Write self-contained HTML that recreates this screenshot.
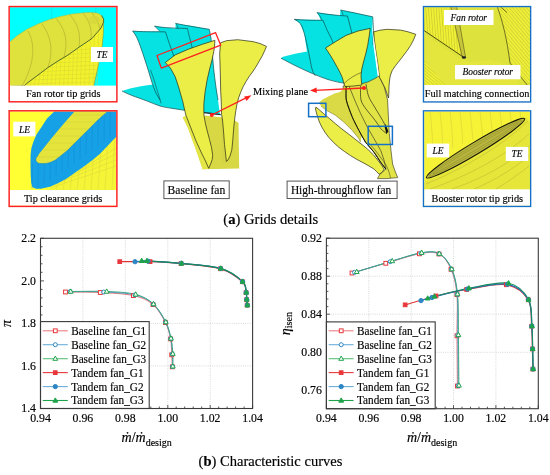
<!DOCTYPE html>
<html><head><meta charset="utf-8"><title>Grids details and characteristic curves</title>
<style>
html,body{margin:0;padding:0;background:#fff;}
body{width:550px;height:475px;overflow:hidden;}
svg{display:block;}
text{font-family:'Liberation Serif','Times New Roman',serif;fill:#000;stroke:#000;stroke-width:0.16px;}
.tl{font-size:11.8px;}
.lg{font-size:12.4px;}
.ax{font-size:14px;}
.sub{font-size:10px;}
.cap{font-size:14px;}
.lab{font-size:11.4px;}
.mp{font-size:10.3px;}
.cp{font-size:10.3px;}
.grid{stroke:#cfcfcf;stroke-width:0.8;stroke-dasharray:1 1.2;}
.tick{stroke:#444;stroke-width:0.9;}
.frame{fill:none;stroke:#3a3a3a;stroke-width:1.1;}
</style></head>
<body>
<svg width="550" height="475" viewBox="0 0 550 475">
<defs>
<clipPath id="clipL"><rect x="40.5" y="238.3" width="212.1" height="170.2"/></clipPath>
<clipPath id="clipR"><rect x="326.4" y="238.2" width="211.89999999999998" height="170.5"/></clipPath>
<clipPath id="c1"><rect x="9.9" y="7.3" width="106.25" height="93.75"/></clipPath>
<clipPath id="c2"><rect x="9.9" y="111.5" width="106.25" height="94.2"/></clipPath>
<clipPath id="cin"><path d="M75.2,110.8 L66.5,120.5 L58.4,130 L50.5,139.5 L43.4,148.5 L38.5,154.5 L35.9,158.5 L36,161.3 L38.5,163.2 L41.7,163.6 L46,163.4 L50,162.6 L55,160.3 L60,156.4 L67.6,150.3 L75,142.8 L82.7,135.2 L90.5,127.5 L97.9,120 L103.5,115 L108.6,110.8 Z"/></clipPath>
<clipPath id="c3"><rect x="424.2" y="7.3" width="105.7" height="93.9"/></clipPath>
<pattern id="hatch" width="2.6" height="2.6" patternUnits="userSpaceOnUse" patternTransform="rotate(-4)"><rect width="2.6" height="2.6" fill="#eff036"/><rect width="0.5" height="2.6" fill="#bcb92c"/></pattern>
<pattern id="hatch2" width="2.6" height="2.6" patternUnits="userSpaceOnUse" patternTransform="rotate(-40)"><rect width="2.6" height="2.6" fill="#eef038"/><rect width="0.5" height="2.6" fill="#c0bd30"/></pattern>
<pattern id="hatch3" width="2.4" height="2.4" patternUnits="userSpaceOnUse" patternTransform="rotate(-50)"><rect width="2.4" height="2.4" fill="#eef036"/><rect width="0.45" height="2.4" fill="#bcb92c"/></pattern>
<clipPath id="c4"><rect x="424.2" y="111.5" width="105.7" height="94.3"/></clipPath>
</defs>
<rect width="550" height="475" fill="#fff"/>
<g clip-path="url(#c1)">
<rect x="9" y="6" width="108" height="96" fill="#00ffff"/>
<path d="M52,7 L50.5,40 M96,7 L93,28" fill="none" stroke="#20c8cc" stroke-width="0.4" stroke-linejoin="round" />
<path d="M103.6,22 L103.4,32 L102.3,45 L100,58 L97.3,70 L95,80 L93.8,86 L20,86 L28,82.5 L48,67.5 L68,55 L92,38.5 L101,28 Z" fill="#f2f22c" stroke="none" stroke-width="0.7" stroke-linejoin="round" />
<path d="M30.0,86 L31.5,80.4M34.2,86 L35.7,77.2M38.4,86 L39.9,74.1M42.6,86 L44.1,70.9M46.8,86 L48.3,67.8M51.0,86 L52.5,65.1M55.2,86 L56.7,62.3M59.4,86 L60.9,59.8M63.6,86 L65.1,57.2M67.8,86 L69.3,54.6M72.0,86 L73.5,51.6M76.2,86 L77.7,48.6M80.4,86 L81.9,45.7M84.6,86 L86.1,42.9M88.8,86 L90.3,40.1M93.0,86 L94.5,36.1M97.2,86 L98.7,31.2M26.3,84.0 L98.0,82.0M31.6,79.8 L97.8,77.8M37.2,75.6 L97.6,73.6M42.8,71.4 L97.4,69.4M48.5,67.2 L97.2,65.2M54.9,63.0 L97.0,61.0M61.7,58.8 L96.7,56.8M68.6,54.6 L96.5,52.6M74.5,50.4 L96.3,48.4" fill="none" stroke="#cfcb36" stroke-width="0.35" stroke-linejoin="round" />
<path d="M9,42.5 L17,35.8 L27,29.3 L38,24 L48,20 L60,16.5 L72,14 L84,12.7 L92,12.5 L98,13.3 L101.5,15.5 L103.6,19 L103.6,22 L101,28 L92,38.5 L80,46.5 L68,55 L58,61 L48,67.5 L38,75 L28,82.5 L24,86 L9,86 Z" fill="#dfe23c" stroke="none" stroke-width="0.7" stroke-linejoin="round" />
<path d="M28,31 C36,45 34,65 22,86 M42,24 C52,38 53,52 48,67 M56,18.5 C66,30 68,42 64,57 M70,15 C78,24 81,34 79,47 M83,13.2 C89,20 92,28 91,39 M92,13 C96,18 99,23 100,30" fill="none" stroke="#9a9628" stroke-width="0.45" stroke-linejoin="round" />
<ellipse cx="94" cy="20" rx="6" ry="4" fill="#d4d63a" opacity="0.7"/>
<path d="M9,86.5 L24,86 L28,82.5 L38,75 L48,67.5 L58,61 L68,55 L80,46.5 L92,38.5 L101,28 L103.6,22 L103.6,19 L101.5,15.5" fill="none" stroke="#4a4810" stroke-width="0.8" stroke-linejoin="round" />
<path d="M103.6,22 L103.4,32 L102.3,45 L100,58 L97.3,70 L95,80 L93.8,86" fill="none" stroke="#8a8620" stroke-width="0.5" stroke-linejoin="round" />
<path d="M9,42.5 L17,35.8 L27,29.3 L38,24 L48,20 L60,16.5 L72,14 L84,12.7 L92,12.5 L98,13.3 L101.5,15.5" fill="none" stroke="#b0ae30" stroke-width="0.4" stroke-linejoin="round" />
<rect x="91" y="47" width="22.0" height="15.0" fill="#fff"/><text x="102.0" y="57.6" class="lab" text-anchor="middle" font-style="italic" style="font-size:9.4px">TE</text>
<rect x="9" y="85.6" width="108" height="17" fill="#fff"/>
</g>
<rect x="9.15" y="6.55" width="107.75" height="95.25" fill="none" stroke="#ff2020" stroke-width="1.45"/>
<text x="26.1" y="97" class="cp" style="font-size:11px" textLength="74.4" lengthAdjust="spacingAndGlyphs">Fan rotor tip grids</text>
<g clip-path="url(#c2)">
<rect x="9" y="110" width="108" height="98" fill="#ffff33"/>
<path d="M116,133 L105.5,145.8 L90.3,159.4 L75.2,170 L60,182 L45,190 L116,190 Z" fill="#f6f436" stroke="none" stroke-width="0.7" stroke-linejoin="round" />
<path d="M56,190 L59,178.0M63,190 L66,172.5M70,190 L73,167.0M77,190 L80,161.5M84,190 L87,156.0M91,190 L94,150.5M98,190 L101,145.0M105,190 L108,139.5M112,190 L115,134.0M50,188 L116,166M60,182 L116,160M70,176 L116,154M80,170 L116,148" fill="none" stroke="#d4d040" stroke-width="0.4" stroke-linejoin="round" />
<path d="M55,110.8 L47,118.5 L41.7,126.7 L36.5,134.5 L33.4,141.8 L31.4,148 L30.6,155 L30.5,165 L30.7,175 L31.2,183 L32.5,187.2 L36,188.8 L41,188.8 L50,186.8 L58.5,183 L66.8,178.5 L75.2,172.5 L83.5,166.8 L92,160.5 L100.3,153.4 L107,146.5 L113.6,139.5 L117,136 L117,110.8 Z" fill="#16a0e6" stroke="none" stroke-width="0.7" stroke-linejoin="round" />
<path d="M32,188.5 L32.5,163.0M38,188.5 L38.5,163.0M44,184.3 L44.5,163.0M50,180.1 L50.5,163.0M56,175.9 L56.5,156.5M62,171.7 L62.5,150.0M68,167.5 L68.5,143.5M74,163.3 L74.5,137.0M80,159.1 L80.5,130.5M86,154.9 L86.5,124.0M92,150.7 L92.5,117.5M98,146.5 L98.5,111.0M104,142.3 L104.5,104.5M110,138.1 L110.5,98.0" fill="none" stroke="#1088d0" stroke-width="0.4" stroke-linejoin="round" />
<path d="M75.2,110.8 L66.5,120.5 L58.4,130 L50.5,139.5 L43.4,148.5 L38.5,154.5 L35.9,158.5 L36,161.3 L38.5,163.2 L41.7,163.6 L46,163.4 L50,162.6 L55,160.3 L60,156.4 L67.6,150.3 L75,142.8 L82.7,135.2 L90.5,127.5 L97.9,120 L103.5,115 L108.6,110.8 Z" fill="#e4e43c" stroke="none" stroke-width="0.7" stroke-linejoin="round" />
<g clip-path="url(#cin)"><path d="M30,157 L110,157 M30,150 L110,150 M30,143 L110,143 M30,136 L110,136 M30,129 L110,129 M30,122 L110,122 M30,115 L110,115" fill="none" stroke="#cfcf40" stroke-width="0.35" stroke-linejoin="round" /></g>
<path d="M38.5,154.5 L35.9,158.5 L36,161.3 L38.5,163.2 L41.7,163.6 L46,163.4 L50,162.6 L55,160.3 L60,156.4 L67.6,150.3 L75,142.8 L82.7,135.2 L90.5,127.5 L97.9,120 L103.5,115 L108.6,110.8" fill="none" stroke="#1480c0" stroke-width="0.5" stroke-linejoin="round" />
<rect x="13.3" y="121.7" width="22.1" height="14.7" fill="#fff"/><text x="24.4" y="132.6" class="lab" text-anchor="middle" font-style="italic" style="font-size:9.4px">LE</text>
<rect x="9" y="190" width="108" height="18" fill="#fff"/>
</g>
<rect x="9.15" y="110.8" width="107.75" height="95.6" fill="none" stroke="#ff2020" stroke-width="1.45"/>
<text x="23.9" y="201.8" class="cp" style="font-size:11px" textLength="78.4" lengthAdjust="spacingAndGlyphs">Tip clearance grids</text>
<g clip-path="url(#c3)">
<rect x="423" y="6" width="108" height="96" fill="#dde23c"/>
<path d="M423,6 L452,6 L464,57 L424,31 Z" fill="url(#hatch)" stroke="none" stroke-width="0.7" stroke-linejoin="round" />
<path d="M497,6 L531,6 L531,86 L524,80 L512,66 C508,42 503,22 497,6 Z" fill="url(#hatch2)" stroke="none" stroke-width="0.7" stroke-linejoin="round" />
<path d="M423,58 L446,86 L423,86 Z" fill="url(#hatch3)" stroke="none" stroke-width="0.7" stroke-linejoin="round" />
<path d="M423,33 L462,60 L470,62 L490,60 L506,64 L514,72 L520,86 L446,86 L423,58 Z" fill="#e4e63e" stroke="none" stroke-width="0.7" stroke-linejoin="round" />
<path d="M450.5,6 L456.5,6 L465.5,57 L462.5,58 Z" fill="#c8c63c" stroke="#3a3812" stroke-width="0.5" stroke-linejoin="round" />
<path d="M424,30.5 L464,57.5" fill="none" stroke="#2a2808" stroke-width="0.8" stroke-linejoin="round" />
<ellipse cx="464" cy="57.5" rx="2" ry="1.2" fill="#222"/>
<path d="M497,6 C503,22 507,40 510,63 L520,76 L528,86" fill="none" stroke="#2a2808" stroke-width="0.6" stroke-linejoin="round" />
<path d="M499.5,6 L507,12.5" fill="none" stroke="#2a2808" stroke-width="0.6" stroke-linejoin="round" />
<rect x="444" y="10" width="49.5" height="15.0" fill="#fff"/><text x="468.8" y="20.8" class="lab" text-anchor="middle" font-style="italic" style="font-size:9.4px">Fan rotor</text>
<rect x="455" y="65" width="65.5" height="14.3" fill="#fff"/><text x="487.8" y="75.3" class="lab" text-anchor="middle" font-style="italic" style="font-size:9.4px">Booster rotor</text>
<rect x="423" y="85" width="108" height="18" fill="#fff"/>
</g>
<rect x="423.45" y="6.55" width="107.2" height="95.4" fill="none" stroke="#1570c8" stroke-width="1.35"/>
<text x="424.8" y="97" class="cp" style="font-size:11px" textLength="104.6" lengthAdjust="spacingAndGlyphs">Full matching connection</text>
<g clip-path="url(#c4)">
<rect x="423" y="110" width="108" height="98" fill="#f6f236"/>
<path d="M430,111 C431.5,125 433,138 432.5,156M440,111 C441.5,125 443,138 442.5,152M450,111 C451.5,125 453,138 452.5,148M460,111 C461.5,125 463,138 462.5,144M470,111 C471.5,125 473,138 472.5,140M480,111 C481.5,125 483,138 482.5,136M490,111 C491.5,125 493,138 492.5,132M500,111 C501.5,125 503,138 502.5,128M510,111 C511.5,125 513,138 512.5,124M520,111 C521.5,125 523,138 522.5,120" fill="none" stroke="#c8c43c" stroke-width="0.4" stroke-linejoin="round" />
<path d="M425,181 C452,170 492,146 526,117 L531,124 L531,190 L424,190 Z" fill="#e6e63a" stroke="none" stroke-width="0.7" stroke-linejoin="round" />
<path d="M426,184 C460,170 500,148 528,121 M430,189 C468,176 505,156 529,134 M452,189 C484,178 510,163 529,146 M474,189 C496,180 514,168 529,156 M496,189 C508,182 519,174 529,166" fill="none" stroke="#b0ac30" stroke-width="0.45" stroke-linejoin="round" />
<ellipse cx="475.55" cy="148.2" rx="57.2" ry="5.9" transform="rotate(-31 475.55 148.2)" fill="#b8b63e" stroke="#1a1a0a" stroke-width="1.1"/>
<ellipse cx="475.55" cy="148.2" rx="54" ry="3.6" transform="rotate(-31 475.55 148.2)" fill="none" stroke="#8a8628" stroke-width="0.45"/>
<ellipse cx="475.55" cy="148.2" rx="50" ry="1.6" transform="rotate(-31 475.55 148.2)" fill="none" stroke="#8a8628" stroke-width="0.45"/>
<rect x="426.7" y="143.6" width="22.5" height="13.8" fill="#fff"/><text x="437.9" y="154.0" class="lab" text-anchor="middle" font-style="italic" style="font-size:9.4px">LE</text>
<rect x="505.8" y="146.9" width="22.4" height="14.1" fill="#fff"/><text x="517.0" y="157.4" class="lab" text-anchor="middle" font-style="italic" style="font-size:9.4px">TE</text>
<rect x="423" y="189.3" width="108" height="19" fill="#fff"/>
</g>
<rect x="423.45" y="110.8" width="107.2" height="95.65" fill="none" stroke="#1570c8" stroke-width="1.35"/>
<text x="431.5" y="201.8" class="cp" style="font-size:11px" textLength="91.6" lengthAdjust="spacingAndGlyphs">Booster rotor tip grids</text>
<path d="M132.6,31 L147,31.4 L160,31.6 L154.5,26 L165,27.4 L175.5,28.5 L175.6,23.4 L192,26 L209.3,29.3 L211,38.6 L212,50 L213.6,68 L215.8,86 L218,100 L220,114.5 L208.5,112.8 L190,111 L173,108.5 L160,106 L146.5,100.8 L132,95.5 L122,91 L130,88.5 L142,86 L153,84.5 L152,82.5 L148.5,71 L144,57 L139.5,44 L136,36 Z" fill="#06e2e2" stroke="none" stroke-width="0.7" stroke-linejoin="round" />
<path d="M132.6,31 C133.2,31.8 134.8,33.8 136.0,36.0 C137.2,38.2 138.2,40.5 139.5,44.0 C140.8,47.5 142.5,52.5 144.0,57.0 C145.5,61.5 147.2,66.8 148.5,71.0 C149.8,75.2 150.8,79.0 152.0,82.5 C153.2,86.0 154.2,89.1 155.5,92.0 C156.8,94.9 159.2,98.7 160.0,100.0" fill="none" stroke="#0f4c4e" stroke-width="0.7" stroke-linejoin="round" />
<path d="M132.6,31 C142,32 152,31.6 165.5,31.9" fill="none" stroke="#0f4c4e" stroke-width="0.7" stroke-linejoin="round" />
<path d="M150.5,70 C151.0,71.3 152.4,75.0 153.4,78.0 C154.4,81.0 155.6,85.0 156.5,88.0 C157.4,91.0 158.2,93.5 159.0,96.0 C159.8,98.5 160.7,102.1 161.0,103.3" fill="none" stroke="#0f4c4e" stroke-width="0.6" stroke-linejoin="round" />
<path d="M165.5,31.9 C166.1,33.6 167.6,38.4 168.8,42.0 C170.1,45.6 171.8,50.5 173.0,53.8 C174.2,57.1 175.5,60.6 176.0,62.0" fill="none" stroke="#0f4c4e" stroke-width="0.7" stroke-linejoin="round" />
<path d="M154.5,26 C160,27.5 170,28 187.4,28.5" fill="none" stroke="#0f4c4e" stroke-width="0.7" stroke-linejoin="round" />
<path d="M154.5,26 C154.9,26.4 156.1,27.6 157.0,28.5 C157.9,29.4 159.5,31.1 160.0,31.6" fill="none" stroke="#0f4c4e" stroke-width="0.6" stroke-linejoin="round" />
<path d="M187.4,28.5 C187.7,29.6 188.3,32.4 189.0,35.2 C189.7,38.0 190.9,42.6 191.6,45.4 C192.3,48.2 192.8,50.9 193.0,52.0" fill="none" stroke="#0f4c4e" stroke-width="0.7" stroke-linejoin="round" />
<path d="M175.6,23.4 C185,25.5 198,27.5 209.3,29.3" fill="none" stroke="#0f4c4e" stroke-width="0.7" stroke-linejoin="round" />
<path d="M175.6,23.4 C175.9,23.8 177.1,25.1 177.5,26.0 C177.9,26.9 177.9,28.1 178.0,28.5" fill="none" stroke="#0f4c4e" stroke-width="0.6" stroke-linejoin="round" />
<path d="M209.3,29.3 C209.6,30.9 210.6,35.1 211.0,38.6 C211.4,42.1 211.6,45.1 212.0,50.0 C212.4,54.9 213.0,62.0 213.6,68.0 C214.2,74.0 215.1,80.7 215.8,86.0 C216.5,91.3 217.6,97.7 218.0,100.0" fill="none" stroke="#0f4c4e" stroke-width="0.7" stroke-linejoin="round" />
<path d="M122,91 C123.7,91.8 127.9,93.9 132.0,95.5 C136.1,97.1 141.8,99.0 146.5,100.8 C151.2,102.5 155.6,104.7 160.0,106.0 C164.4,107.3 168.0,107.7 173.0,108.5 C178.0,109.3 184.1,110.3 190.0,111.0 C195.9,111.7 203.5,112.2 208.5,112.8 C213.5,113.4 218.1,114.2 220.0,114.5" fill="none" stroke="#0f4c4e" stroke-width="0.7" stroke-linejoin="round" />
<path d="M182.7,117.3 L204.5,115.5 L221,117.3 L235.5,121 L238.5,122.7 L239.2,168.5 L202.7,169.3 L196,150 L188,128 Z" fill="#d8d844" stroke="none" stroke-width="0.7" stroke-linejoin="round" />
<path d="M221,117.3 L228,119 L229,160 L222,166 Z" fill="#d4d444" stroke="none" stroke-width="0.7" stroke-linejoin="round" />
<path d="M182.7,117.3 L186,115.5 L190.5,127 L196,141 L201.5,153 L205.5,161 L208.7,168.8 L202.7,169.3 L196,150 L188,128 Z" fill="#e4e648" stroke="none" stroke-width="0.7" stroke-linejoin="round" />
<path d="M165.3,62.5 L175.2,54.9 L188.4,49.2 L201.7,44.5 L214.9,40.3 L214.6,45 L214,50.2 L212.1,59.6 L209.6,69.1 L207,80.5 L205.1,91.8 L203.9,103.2 L203.8,110 L204,115.8 L205.5,124 L207.5,132 L209.5,139.5 L211.5,147.5 L212.7,155.3 L212.2,159.5 L211,163 L208.7,168.3 L205.5,161 L201.5,153 L196,141 L190.5,127 L185.8,115 L182.7,101.3 L178.9,88 L175.2,76.7 L170.4,68.1 Z" fill="#eaee46" stroke="#2a2a12" stroke-width="0.7" stroke-linejoin="round" />
<path d="M220.5,42.8 L226.4,40.7 L237.7,39.7 L252.9,41.6 L260,43.5 L266.5,46.4 L264.5,51 L262.3,55.8 L259,61.5 L255.7,67.2 L252.5,72 L249,76.7 L246,81.5 L243.4,86.1 L241,91.5 L238.7,97.5 L237,104 L235.8,110.8 L234.8,118 L234,125 L233.4,132 L232.8,140 L231.8,150 L230,156 L228,160 L226.4,161.5 L225.5,153 L224.5,144.5 L223.5,131 L222.5,120 L221.6,114.5 L221.2,100 L220.7,91.8 L220.3,72.9 L219.7,54 Z" fill="#eaee46" stroke="#2a2a12" stroke-width="0.7" stroke-linejoin="round" />
<path d="M204,112.6 C210,113.2 215,113.9 221,114.8" fill="none" stroke="#1d3a3a" stroke-width="1.1" stroke-linejoin="round" />
<path d="M157,55.5 L215.5,32.6 L220.7,45.2 L161.3,68.1 Z" fill="none" stroke="#ff2020" stroke-width="1.3" stroke-linejoin="round" />
<path d="M294.3,19.3 L310,19.8 L321,20.1 L317,12.6 L330,14.2 L340,15.5 L340.6,10 L356,13 L372.7,16.8 L372.5,24 L372.2,30 L373.9,45.3 L376.2,62 L378,75.6 L375,80 L369,84 L363.6,85.5 L350,83.6 L340.6,82.6 L327,79.2 L310,72.5 L295,65.5 L281,58.2 L283,56.8 L295,53.8 L307,51.4 L305.5,42 L304.4,33.7 L300.2,23.5 Z" fill="#06e2e2" stroke="none" stroke-width="0.7" stroke-linejoin="round" />
<path d="M294.3,19.3 C295.3,20.0 298.5,21.1 300.2,23.5 C301.9,25.9 303.0,28.9 304.4,33.7 C305.8,38.5 307.3,46.3 308.6,52.2 C309.9,58.1 310.9,65.1 312.0,69.0 C313.1,72.9 314.8,74.7 315.4,75.8" fill="none" stroke="#0f4c4e" stroke-width="0.7" stroke-linejoin="round" />
<path d="M294.3,19.3 C305,20.5 314,20.3 323,20.2" fill="none" stroke="#0f4c4e" stroke-width="0.7" stroke-linejoin="round" />
<path d="M323,20.2 C323.7,21.9 325.8,27.2 327.2,30.3 C328.6,33.4 330.3,36.2 331.4,38.7 C332.5,41.2 333.5,44.4 333.9,45.5" fill="none" stroke="#0f4c4e" stroke-width="0.7" stroke-linejoin="round" />
<path d="M317,12.6 C327,14.5 337,15.5 347.4,16" fill="none" stroke="#0f4c4e" stroke-width="0.7" stroke-linejoin="round" />
<path d="M317,12.6 C317.5,13.2 319.2,14.8 320.0,16.0 C320.8,17.2 321.2,19.4 321.5,20.1" fill="none" stroke="#0f4c4e" stroke-width="0.6" stroke-linejoin="round" />
<path d="M347.4,16 C347.7,17.0 348.3,19.2 349.0,21.9 C349.7,24.6 350.9,29.0 351.6,32.0 C352.3,35.0 352.8,38.7 353.0,40.0" fill="none" stroke="#0f4c4e" stroke-width="0.7" stroke-linejoin="round" />
<path d="M340.6,10 C350,12 362,14.5 372.7,16.8" fill="none" stroke="#0f4c4e" stroke-width="0.7" stroke-linejoin="round" />
<path d="M340.6,10 C340.9,10.5 342.1,12.1 342.5,13.0 C342.9,13.9 342.9,15.2 343.0,15.6" fill="none" stroke="#0f4c4e" stroke-width="0.6" stroke-linejoin="round" />
<path d="M372.7,16.8 C372.8,19.1 373.4,25.6 373.5,30.3 C373.6,35.0 373.1,42.5 373.0,45.0" fill="none" stroke="#0f4c4e" stroke-width="0.7" stroke-linejoin="round" />
<path d="M281,58.2 C283.3,59.4 290.2,63.1 295.0,65.5 C299.8,67.9 304.7,70.2 310.0,72.5 C315.3,74.8 321.9,77.5 327.0,79.2 C332.1,80.9 336.8,81.9 340.6,82.6 C344.4,83.3 348.4,83.4 350.0,83.6" fill="none" stroke="#0f4c4e" stroke-width="0.7" stroke-linejoin="round" />
<path d="M343,86 L352,84.5 L361,84 L368,82 L374,79 L379,76 L384,86 L387.6,100 L388.4,116.9 L389.3,133.7 L391,150.6 L392.6,164.1 L395,171 L397.7,177.6 L387,178.6 L377.5,178.6 L380,174 L385.9,169.1 L380.8,162.4 L374.1,152.3 L365.6,142.2 L358.9,130.4 L352.2,116.9 L346.3,100 L344,92 Z" fill="#e2e446" stroke="#2a2a12" stroke-width="0.6" stroke-linejoin="round" />
<path d="M318.9,102.4 L323,99.3 L328.9,96.2 L334.5,93.6 L340,91.9 L343.5,88.5 L346.3,85 L346.5,92 L346.3,100 L349,108 L352.2,116.9 L355.5,123.8 L358.9,130.4 L361.5,136.5 L360.6,142.2 L358.9,138.8 L355.5,134.5 L352.2,130.4 L343.7,121.9 L335.3,115.2 L326,110.1 L321,106 Z" fill="#d9da46" stroke="none" stroke-width="0.7" stroke-linejoin="round" />
<path d="M360.6,142.2 L358.9,138.8 L355.5,134.5 L352.2,130.4 L343.7,121.9 L335.3,115.2 L326,110.1 L321,106" fill="none" stroke="#6a6820" stroke-width="0.5" stroke-linejoin="round" />
<path d="M346.3,85 L346.3,100 L352.2,116.9 L358.9,130.4 L365.6,142.2 L374.1,152.3 L380.8,162.4 L385.9,169.1 L384.2,160.7 L380.8,150.6 L374.1,138.8 L367.3,127 L360.6,113.5 L354.7,100 L349,86 Z" fill="#e0e246" stroke="#2a2a12" stroke-width="0.6" stroke-linejoin="round" />
<path d="M346.3,85 C346.3,87.5 345.3,94.7 346.3,100.0 C347.3,105.3 350.1,111.8 352.2,116.9 C354.3,122.0 356.7,126.2 358.9,130.4 C361.1,134.6 363.1,138.5 365.6,142.2 C368.1,145.8 371.6,148.9 374.1,152.3 C376.6,155.7 378.8,159.6 380.8,162.4 C382.8,165.2 385.0,168.0 385.9,169.1" fill="none" stroke="#1a1a08" stroke-width="1.0" stroke-linejoin="round" />
<path d="M360.6,86 C360.7,88.3 360.1,96.2 361.0,100.0 C361.9,103.8 364.1,106.2 366.0,109.0 C367.9,111.8 370.6,114.6 372.4,116.9 C374.2,119.2 375.6,121.0 377.0,123.0 C378.4,125.0 379.6,127.3 380.8,128.7 C382.0,130.1 383.0,130.7 384.0,131.5 C385.0,132.3 386.2,133.3 386.7,133.7" fill="none" stroke="#2a2a12" stroke-width="0.7" stroke-linejoin="round" />
<path d="M366,84 C366.4,86.0 367.2,92.3 368.5,96.0 C369.8,99.7 372.1,102.7 374.0,106.0 C375.9,109.3 378.2,113.0 380.0,116.0 C381.8,119.0 383.3,121.7 384.5,124.0 C385.7,126.3 386.6,129.0 387.0,130.0" fill="none" stroke="#2a2a12" stroke-width="0.7" stroke-linejoin="round" />
<path d="M385.6,124 L388.4,131.5 L386.4,134 L384.6,127 Z" fill="#111" stroke="none" stroke-width="0.7" stroke-linejoin="round" />
<path d="M369,143 C370.0,144.2 373.0,147.5 375.0,150.0 C377.0,152.5 379.2,155.5 381.0,158.0 C382.8,160.5 384.7,162.7 386.0,165.0 C387.3,167.3 388.2,169.8 389.0,172.0 C389.8,174.2 390.2,177.0 390.5,178.0" fill="none" stroke="#2a2a12" stroke-width="0.5" stroke-linejoin="round" />
<path d="M315.9,107.1 L319.5,110 L323.5,113.5 L329.5,118.6 L335.3,123.6 L341,128.3 L347.1,132.9 L353,137.5 L358.9,142.2 L363.2,145.5 L367.3,148.9 L370.8,152.2 L374.1,155.6 L377.5,159.8 L380.8,164.1 L384.2,169.1 L382,172.5 L379.1,174.2 L376.5,171.5 L374.1,169.1 L369,166 L364,163.2 L357,159.5 L350.5,155.6 L344.5,151.5 L338.7,147.2 L333.3,142.2 L328.5,137.1 L324.8,132 L321.8,127 L319.4,122 L317.6,116.9 L316.2,112 L315.5,109 Z" fill="#eaee46" stroke="#2a2a12" stroke-width="0.7" stroke-linejoin="round" />
<path d="M325.5,48 L335,42 L346,35.4 L358,31 L370.2,28.4 L369.2,36 L367.7,45.3 L365.7,54 L363.5,62 L361.8,69 L361,75.6 L361.3,80 L361.8,85 L354,86 L345,86.5 L343.5,82 L342.3,77.5 L340,72.5 L337.3,67.4 L334,61.5 L330.5,55.6 L327.5,51 Z" fill="#eaee46" stroke="#2a2a12" stroke-width="0.7" stroke-linejoin="round" />
<path d="M343.5,84 C349,78.5 355,75 361.3,72.5" fill="none" stroke="#2a2a12" stroke-width="0.5" stroke-linejoin="round" />
<path d="M373.7,31.8 L380,30.2 L387.1,29.3 L400.6,30.1 L408,31.8 L415.8,34.3 L413.5,40 L410.7,45.3 L406.5,51.5 L402.3,57 L399,61.3 L395.6,65.5 L392.2,70.5 L390.5,75 L389.7,78.9 L389,86 L388.8,94 L388.5,98 L385,88 L381.5,81 L379.5,77.2 L377.8,64 L375.7,50 L374.4,40 Z" fill="#eaee46" stroke="#2a2a12" stroke-width="0.7" stroke-linejoin="round" />
<path d="M372.6,31 L374.8,45.3 L377.3,62 L379,75.6 L377.6,75.6 L375.7,62 L373.4,45.3 Z" fill="#ffffff" stroke="none" stroke-width="0.7" stroke-linejoin="round" />
<rect x="308.6" y="103.3" width="17.3" height="13.4" fill="none" stroke="#1570c8" stroke-width="1.5"/>
<rect x="368.2" y="126.3" width="24.2" height="18.2" fill="none" stroke="#1570c8" stroke-width="1.5"/>
<circle cx="211.8" cy="115" r="2" fill="#ff2020"/>
<path d="M211.8,115 L247,97.4" fill="none" stroke="#ff2020" stroke-width="1.3" stroke-linejoin="round" />
<path d="M251.5,95.2 L244.2,96.4 L246.6,101 Z" fill="#ff2020" stroke="none" stroke-width="0.7" stroke-linejoin="round" />
<text x="253" y="94.8" class="mp">Mixing plane</text>
<circle cx="364" cy="88" r="2" fill="#ff2020"/>
<path d="M364,88 L315,90.3" fill="none" stroke="#ff2020" stroke-width="1.3" stroke-linejoin="round" />
<path d="M310,90.5 L316.6,87.6 L316.8,93 Z" fill="#ff2020" stroke="none" stroke-width="0.7" stroke-linejoin="round" />
<rect x="163.9" y="180.9" width="65.3" height="17.7" fill="#fff" stroke="#555" stroke-width="1"/>
<text x="167.6" y="193.7" class="lab" style="font-size:12.6px" textLength="57.6" lengthAdjust="spacingAndGlyphs">Baseline fan</text>
<rect x="287.1" y="181.1" width="110" height="17.4" fill="#fff" stroke="#555" stroke-width="1"/>
<text x="290.9" y="193.7" class="lab" style="font-size:12.6px" textLength="100.3" lengthAdjust="spacingAndGlyphs">High-throughflow fan</text>
<line x1="82.9" y1="238.3" x2="82.9" y2="408.5" class="grid"/>
<line x1="125.3" y1="238.3" x2="125.3" y2="408.5" class="grid"/>
<line x1="167.8" y1="238.3" x2="167.8" y2="408.5" class="grid"/>
<line x1="210.2" y1="238.3" x2="210.2" y2="408.5" class="grid"/>
<line x1="40.5" y1="365.9" x2="252.6" y2="365.9" class="grid"/>
<line x1="40.5" y1="323.4" x2="252.6" y2="323.4" class="grid"/>
<line x1="40.5" y1="408.5" x2="44.0" y2="408.5" class="tick"/>
<line x1="40.5" y1="365.9" x2="44.0" y2="365.9" class="tick"/>
<line x1="40.5" y1="323.4" x2="44.0" y2="323.4" class="tick"/>
<line x1="40.5" y1="280.9" x2="44.0" y2="280.9" class="tick"/>
<line x1="40.5" y1="238.3" x2="44.0" y2="238.3" class="tick"/>
<line x1="40.5" y1="400.0" x2="42.5" y2="400.0" class="tick"/>
<line x1="40.5" y1="391.5" x2="42.5" y2="391.5" class="tick"/>
<line x1="40.5" y1="383.0" x2="42.5" y2="383.0" class="tick"/>
<line x1="40.5" y1="374.5" x2="42.5" y2="374.5" class="tick"/>
<line x1="40.5" y1="357.4" x2="42.5" y2="357.4" class="tick"/>
<line x1="40.5" y1="348.9" x2="42.5" y2="348.9" class="tick"/>
<line x1="40.5" y1="340.4" x2="42.5" y2="340.4" class="tick"/>
<line x1="40.5" y1="331.9" x2="42.5" y2="331.9" class="tick"/>
<line x1="40.5" y1="314.9" x2="42.5" y2="314.9" class="tick"/>
<line x1="40.5" y1="306.4" x2="42.5" y2="306.4" class="tick"/>
<line x1="40.5" y1="297.9" x2="42.5" y2="297.9" class="tick"/>
<line x1="40.5" y1="289.4" x2="42.5" y2="289.4" class="tick"/>
<line x1="40.5" y1="272.3" x2="42.5" y2="272.3" class="tick"/>
<line x1="40.5" y1="263.8" x2="42.5" y2="263.8" class="tick"/>
<line x1="40.5" y1="255.3" x2="42.5" y2="255.3" class="tick"/>
<line x1="40.5" y1="246.8" x2="42.5" y2="246.8" class="tick"/>
<line x1="40.5" y1="408.5" x2="40.5" y2="405.0" class="tick"/>
<line x1="82.9" y1="408.5" x2="82.9" y2="405.0" class="tick"/>
<line x1="125.3" y1="408.5" x2="125.3" y2="405.0" class="tick"/>
<line x1="167.8" y1="408.5" x2="167.8" y2="405.0" class="tick"/>
<line x1="210.2" y1="408.5" x2="210.2" y2="405.0" class="tick"/>
<line x1="252.6" y1="408.5" x2="252.6" y2="405.0" class="tick"/>
<line x1="49.0" y1="408.5" x2="49.0" y2="406.5" class="tick"/>
<line x1="57.5" y1="408.5" x2="57.5" y2="406.5" class="tick"/>
<line x1="66.0" y1="408.5" x2="66.0" y2="406.5" class="tick"/>
<line x1="74.4" y1="408.5" x2="74.4" y2="406.5" class="tick"/>
<line x1="91.4" y1="408.5" x2="91.4" y2="406.5" class="tick"/>
<line x1="99.9" y1="408.5" x2="99.9" y2="406.5" class="tick"/>
<line x1="108.4" y1="408.5" x2="108.4" y2="406.5" class="tick"/>
<line x1="116.9" y1="408.5" x2="116.9" y2="406.5" class="tick"/>
<line x1="133.8" y1="408.5" x2="133.8" y2="406.5" class="tick"/>
<line x1="142.3" y1="408.5" x2="142.3" y2="406.5" class="tick"/>
<line x1="150.8" y1="408.5" x2="150.8" y2="406.5" class="tick"/>
<line x1="159.3" y1="408.5" x2="159.3" y2="406.5" class="tick"/>
<line x1="176.2" y1="408.5" x2="176.2" y2="406.5" class="tick"/>
<line x1="184.7" y1="408.5" x2="184.7" y2="406.5" class="tick"/>
<line x1="193.2" y1="408.5" x2="193.2" y2="406.5" class="tick"/>
<line x1="201.7" y1="408.5" x2="201.7" y2="406.5" class="tick"/>
<line x1="218.7" y1="408.5" x2="218.7" y2="406.5" class="tick"/>
<line x1="227.1" y1="408.5" x2="227.1" y2="406.5" class="tick"/>
<line x1="235.6" y1="408.5" x2="235.6" y2="406.5" class="tick"/>
<line x1="244.1" y1="408.5" x2="244.1" y2="406.5" class="tick"/>
<text x="36.0" y="412.4" class="tl" text-anchor="end">1.4</text>
<text x="36.0" y="369.8" class="tl" text-anchor="end">1.6</text>
<text x="36.0" y="327.3" class="tl" text-anchor="end">1.8</text>
<text x="36.0" y="284.8" class="tl" text-anchor="end">2.0</text>
<text x="36.0" y="242.2" class="tl" text-anchor="end">2.2</text>
<text x="40.5" y="421.9" class="tl" text-anchor="middle">0.94</text>
<text x="82.9" y="421.9" class="tl" text-anchor="middle">0.96</text>
<text x="125.3" y="421.9" class="tl" text-anchor="middle">0.98</text>
<text x="167.8" y="421.9" class="tl" text-anchor="middle">1.00</text>
<text x="210.2" y="421.9" class="tl" text-anchor="middle">1.02</text>
<text x="252.6" y="421.9" class="tl" text-anchor="middle">1.04</text>
<g clip-path="url(#clipL)">
<path d="M65.5,292.0 C71.3,292.1 89.0,291.9 100.3,292.5 C111.6,293.1 124.6,293.6 133.4,295.6 C142.2,297.6 147.7,300.1 153.0,304.6 C158.3,309.1 162.5,316.9 165.4,322.6 C168.3,328.3 169.6,333.5 170.6,338.9 C171.6,344.3 171.4,350.1 171.7,354.8 C172.0,359.5 172.2,364.8 172.3,366.8" fill="none" stroke="#e87070" stroke-width="1.0" stroke-linejoin="round"/>
<path d="M70.2,291.6 C75.8,291.7 93.0,291.4 103.8,292.0 C114.6,292.6 126.8,292.9 135.0,294.9 C143.2,296.9 148.2,299.6 153.3,304.2 C158.4,308.8 162.7,316.5 165.6,322.2 C168.5,327.9 169.7,333.3 170.8,338.6 C171.9,343.9 172.1,349.4 172.4,354.0 C172.7,358.6 172.6,364.4 172.6,366.5" fill="none" stroke="#5a9ccc" stroke-width="1.0" stroke-linejoin="round"/>
<path d="M70.7,291.5 C76.7,291.5 95.9,291.0 106.7,291.5 C117.5,292.0 127.9,292.3 135.7,294.4 C143.5,296.5 148.5,299.4 153.5,304.0 C158.5,308.6 162.9,316.3 165.8,322.0 C168.7,327.7 169.8,333.1 171.0,338.4 C172.2,343.7 172.5,349.0 172.8,353.7 C173.1,358.4 172.8,364.2 172.8,366.3" fill="none" stroke="#36a47e" stroke-width="0.95" stroke-linejoin="round"/>
<rect x="63.6" y="290.1" width="3.8" height="3.8" fill="#fff" stroke="#e8383d" stroke-width="1"/>
<rect x="98.4" y="290.6" width="3.8" height="3.8" fill="#fff" stroke="#e8383d" stroke-width="1"/>
<rect x="131.5" y="293.7" width="3.8" height="3.8" fill="#fff" stroke="#e8383d" stroke-width="1"/>
<rect x="151.1" y="302.7" width="3.8" height="3.8" fill="#fff" stroke="#e8383d" stroke-width="1"/>
<rect x="163.5" y="320.7" width="3.8" height="3.8" fill="#fff" stroke="#e8383d" stroke-width="1"/>
<rect x="168.7" y="337.0" width="3.8" height="3.8" fill="#fff" stroke="#e8383d" stroke-width="1"/>
<rect x="169.8" y="352.9" width="3.8" height="3.8" fill="#fff" stroke="#e8383d" stroke-width="1"/>
<rect x="170.4" y="364.9" width="3.8" height="3.8" fill="#fff" stroke="#e8383d" stroke-width="1"/>
<circle cx="70.2" cy="291.6" r="2.0" fill="#fff" stroke="#2f86c4" stroke-width="1"/>
<circle cx="103.8" cy="292.0" r="2.0" fill="#fff" stroke="#2f86c4" stroke-width="1"/>
<circle cx="135.0" cy="294.9" r="2.0" fill="#fff" stroke="#2f86c4" stroke-width="1"/>
<circle cx="153.3" cy="304.2" r="2.0" fill="#fff" stroke="#2f86c4" stroke-width="1"/>
<circle cx="165.6" cy="322.2" r="2.0" fill="#fff" stroke="#2f86c4" stroke-width="1"/>
<circle cx="170.8" cy="338.6" r="2.0" fill="#fff" stroke="#2f86c4" stroke-width="1"/>
<circle cx="172.4" cy="354.0" r="2.0" fill="#fff" stroke="#2f86c4" stroke-width="1"/>
<circle cx="172.6" cy="366.5" r="2.0" fill="#fff" stroke="#2f86c4" stroke-width="1"/>
<path d="M70.7,288.9 L73.1,293.2 L68.3,293.2 Z" fill="#fff" stroke="#1fa34a" stroke-width="1"/>
<path d="M106.7,288.9 L109.1,293.2 L104.3,293.2 Z" fill="#fff" stroke="#1fa34a" stroke-width="1"/>
<path d="M135.7,291.8 L138.1,296.1 L133.3,296.1 Z" fill="#fff" stroke="#1fa34a" stroke-width="1"/>
<path d="M153.5,301.4 L155.9,305.7 L151.1,305.7 Z" fill="#fff" stroke="#1fa34a" stroke-width="1"/>
<path d="M165.8,319.4 L168.2,323.7 L163.4,323.7 Z" fill="#fff" stroke="#1fa34a" stroke-width="1"/>
<path d="M171.0,335.8 L173.4,340.1 L168.6,340.1 Z" fill="#fff" stroke="#1fa34a" stroke-width="1"/>
<path d="M172.8,351.1 L175.2,355.4 L170.4,355.4 Z" fill="#fff" stroke="#1fa34a" stroke-width="1"/>
<path d="M172.8,363.8 L175.2,368.0 L170.4,368.0 Z" fill="#fff" stroke="#1fa34a" stroke-width="1"/>
<path d="M119.7,261.7 C124.8,261.7 139.8,261.4 150.0,261.7 C160.2,262.0 169.3,262.4 181.0,263.6 C192.7,264.8 210.2,265.8 220.4,268.8 C230.6,271.8 238.1,277.8 242.4,281.8 C246.7,285.8 245.4,289.6 246.1,292.6 C246.8,295.6 246.4,297.5 246.6,299.6 C246.8,301.7 247.1,304.3 247.2,305.2" fill="none" stroke="#e03434" stroke-width="1.2" stroke-linejoin="round"/>
<path d="M135.0,261.7 C137.2,261.6 140.3,260.9 148.0,261.2 C155.7,261.5 169.2,262.2 181.3,263.4 C193.4,264.6 210.5,265.5 220.7,268.5 C230.9,271.5 238.2,277.6 242.5,281.6 C246.8,285.6 245.5,289.5 246.2,292.5 C246.9,295.5 246.5,297.4 246.7,299.5 C246.9,301.6 247.2,304.2 247.3,305.1" fill="none" stroke="#2274b4" stroke-width="1.2" stroke-linejoin="round"/>
<path d="M141.7,260.8 C142.6,260.8 140.3,260.4 146.9,260.8 C153.5,261.2 169.2,262.1 181.5,263.4 C193.8,264.7 210.6,265.4 220.8,268.4 C231.0,271.4 238.3,277.5 242.6,281.5 C246.8,285.5 245.6,289.4 246.3,292.4 C247.0,295.4 246.6,297.3 246.8,299.4 C247.0,301.5 247.3,304.1 247.4,305.0" fill="none" stroke="#178a62" stroke-width="1.1" stroke-linejoin="round"/>
<rect x="117.9" y="259.8" width="3.7" height="3.7" fill="#e8383d" stroke="#e8383d" stroke-width="1"/>
<rect x="148.2" y="259.8" width="3.7" height="3.7" fill="#e8383d" stroke="#e8383d" stroke-width="1"/>
<rect x="179.2" y="261.8" width="3.7" height="3.7" fill="#e8383d" stroke="#e8383d" stroke-width="1"/>
<rect x="218.6" y="266.9" width="3.7" height="3.7" fill="#e8383d" stroke="#e8383d" stroke-width="1"/>
<rect x="240.6" y="279.9" width="3.7" height="3.7" fill="#e8383d" stroke="#e8383d" stroke-width="1"/>
<rect x="244.2" y="290.8" width="3.7" height="3.7" fill="#e8383d" stroke="#e8383d" stroke-width="1"/>
<rect x="244.8" y="297.8" width="3.7" height="3.7" fill="#e8383d" stroke="#e8383d" stroke-width="1"/>
<rect x="245.3" y="303.3" width="3.7" height="3.7" fill="#e8383d" stroke="#e8383d" stroke-width="1"/>
<circle cx="135.0" cy="261.7" r="2.15" fill="#2f86c4" stroke="#2f86c4" stroke-width="1"/>
<circle cx="148.0" cy="261.2" r="2.15" fill="#2f86c4" stroke="#2f86c4" stroke-width="1"/>
<circle cx="181.3" cy="263.4" r="2.15" fill="#2f86c4" stroke="#2f86c4" stroke-width="1"/>
<circle cx="220.7" cy="268.5" r="2.15" fill="#2f86c4" stroke="#2f86c4" stroke-width="1"/>
<circle cx="242.5" cy="281.6" r="2.15" fill="#2f86c4" stroke="#2f86c4" stroke-width="1"/>
<circle cx="246.2" cy="292.5" r="2.15" fill="#2f86c4" stroke="#2f86c4" stroke-width="1"/>
<circle cx="246.7" cy="299.5" r="2.15" fill="#2f86c4" stroke="#2f86c4" stroke-width="1"/>
<circle cx="247.3" cy="305.1" r="2.15" fill="#2f86c4" stroke="#2f86c4" stroke-width="1"/>
<path d="M141.7,258.2 L144.1,262.5 L139.3,262.5 Z" fill="#1fa34a" stroke="#1fa34a" stroke-width="1"/>
<path d="M146.9,258.2 L149.3,262.5 L144.5,262.5 Z" fill="#1fa34a" stroke="#1fa34a" stroke-width="1"/>
<path d="M181.5,260.8 L183.9,265.1 L179.1,265.1 Z" fill="#1fa34a" stroke="#1fa34a" stroke-width="1"/>
<path d="M220.8,265.8 L223.2,270.1 L218.4,270.1 Z" fill="#1fa34a" stroke="#1fa34a" stroke-width="1"/>
<path d="M242.6,278.9 L245.0,283.2 L240.2,283.2 Z" fill="#1fa34a" stroke="#1fa34a" stroke-width="1"/>
<path d="M246.3,289.8 L248.7,294.1 L243.9,294.1 Z" fill="#1fa34a" stroke="#1fa34a" stroke-width="1"/>
<path d="M246.8,296.8 L249.2,301.1 L244.4,301.1 Z" fill="#1fa34a" stroke="#1fa34a" stroke-width="1"/>
<path d="M247.4,302.4 L249.8,306.7 L245.0,306.7 Z" fill="#1fa34a" stroke="#1fa34a" stroke-width="1"/>
</g>
<rect x="40.5" y="321.6" width="108.7" height="86.9" style="fill:#fff;stroke:#3a3a3a;stroke-width:1.1"/>
<line x1="42.8" y1="330.8" x2="67.8" y2="330.8" stroke="#ef7f82" stroke-width="1.1"/>
<rect x="53.4" y="328.9" width="3.8" height="3.8" fill="#fff" stroke="#e8383d" stroke-width="1"/>
<text x="71.2" y="334.7" class="lg" textLength="74.9" lengthAdjust="spacingAndGlyphs">Baseline fan_G1</text>
<line x1="42.8" y1="344.7" x2="67.8" y2="344.7" stroke="#6aaed8" stroke-width="1.1"/>
<circle cx="55.3" cy="344.7" r="2.0" fill="#fff" stroke="#2f86c4" stroke-width="1"/>
<text x="71.2" y="348.6" class="lg" textLength="74.9" lengthAdjust="spacingAndGlyphs">Baseline fan_G2</text>
<line x1="42.8" y1="358.7" x2="67.8" y2="358.7" stroke="#5cc17a" stroke-width="1.1"/>
<path d="M55.3,356.1 L57.7,360.3 L52.9,360.3 Z" fill="#fff" stroke="#1fa34a" stroke-width="1"/>
<text x="71.2" y="362.6" class="lg" textLength="74.9" lengthAdjust="spacingAndGlyphs">Baseline fan_G3</text>
<line x1="42.8" y1="372.6" x2="67.8" y2="372.6" stroke="#e8383d" stroke-width="1.1"/>
<rect x="53.4" y="370.8" width="3.7" height="3.7" fill="#e8383d" stroke="#e8383d" stroke-width="1"/>
<text x="71.2" y="376.5" class="lg" textLength="72.3" lengthAdjust="spacingAndGlyphs">Tandem fan_G1</text>
<line x1="42.8" y1="386.6" x2="67.8" y2="386.6" stroke="#6aaed8" stroke-width="1.1"/>
<circle cx="55.3" cy="386.6" r="2.15" fill="#2f86c4" stroke="#2f86c4" stroke-width="1"/>
<text x="71.2" y="390.5" class="lg" textLength="72.3" lengthAdjust="spacingAndGlyphs">Tandem fan_G2</text>
<line x1="42.8" y1="400.5" x2="67.8" y2="400.5" stroke="#1fa34a" stroke-width="1.1"/>
<path d="M55.3,397.9 L57.7,402.2 L52.9,402.2 Z" fill="#1fa34a" stroke="#1fa34a" stroke-width="1"/>
<text x="71.2" y="404.4" class="lg" textLength="72.3" lengthAdjust="spacingAndGlyphs">Tandem fan_G3</text>
<rect x="40.5" y="238.3" width="212.1" height="170.2" class="frame"/>
<line x1="368.8" y1="238.2" x2="368.8" y2="408.7" class="grid"/>
<line x1="411.2" y1="238.2" x2="411.2" y2="408.7" class="grid"/>
<line x1="453.5" y1="238.2" x2="453.5" y2="408.7" class="grid"/>
<line x1="495.9" y1="238.2" x2="495.9" y2="408.7" class="grid"/>
<line x1="326.4" y1="352.3" x2="538.3" y2="352.3" class="grid"/>
<line x1="326.4" y1="314.2" x2="538.3" y2="314.2" class="grid"/>
<line x1="326.4" y1="276.2" x2="538.3" y2="276.2" class="grid"/>
<line x1="326.4" y1="390.3" x2="329.9" y2="390.3" class="tick"/>
<line x1="326.4" y1="352.3" x2="329.9" y2="352.3" class="tick"/>
<line x1="326.4" y1="314.2" x2="329.9" y2="314.2" class="tick"/>
<line x1="326.4" y1="276.2" x2="329.9" y2="276.2" class="tick"/>
<line x1="326.4" y1="238.2" x2="329.9" y2="238.2" class="tick"/>
<line x1="326.4" y1="382.7" x2="328.4" y2="382.7" class="tick"/>
<line x1="326.4" y1="375.1" x2="328.4" y2="375.1" class="tick"/>
<line x1="326.4" y1="367.5" x2="328.4" y2="367.5" class="tick"/>
<line x1="326.4" y1="359.9" x2="328.4" y2="359.9" class="tick"/>
<line x1="326.4" y1="344.7" x2="328.4" y2="344.7" class="tick"/>
<line x1="326.4" y1="337.1" x2="328.4" y2="337.1" class="tick"/>
<line x1="326.4" y1="329.5" x2="328.4" y2="329.5" class="tick"/>
<line x1="326.4" y1="321.9" x2="328.4" y2="321.9" class="tick"/>
<line x1="326.4" y1="306.6" x2="328.4" y2="306.6" class="tick"/>
<line x1="326.4" y1="299.0" x2="328.4" y2="299.0" class="tick"/>
<line x1="326.4" y1="291.4" x2="328.4" y2="291.4" class="tick"/>
<line x1="326.4" y1="283.8" x2="328.4" y2="283.8" class="tick"/>
<line x1="326.4" y1="268.6" x2="328.4" y2="268.6" class="tick"/>
<line x1="326.4" y1="261.0" x2="328.4" y2="261.0" class="tick"/>
<line x1="326.4" y1="253.4" x2="328.4" y2="253.4" class="tick"/>
<line x1="326.4" y1="245.8" x2="328.4" y2="245.8" class="tick"/>
<line x1="326.4" y1="397.9" x2="328.4" y2="397.9" class="tick"/>
<line x1="326.4" y1="405.5" x2="328.4" y2="405.5" class="tick"/>
<line x1="326.4" y1="408.7" x2="326.4" y2="405.2" class="tick"/>
<line x1="368.8" y1="408.7" x2="368.8" y2="405.2" class="tick"/>
<line x1="411.2" y1="408.7" x2="411.2" y2="405.2" class="tick"/>
<line x1="453.5" y1="408.7" x2="453.5" y2="405.2" class="tick"/>
<line x1="495.9" y1="408.7" x2="495.9" y2="405.2" class="tick"/>
<line x1="538.3" y1="408.7" x2="538.3" y2="405.2" class="tick"/>
<line x1="334.9" y1="408.7" x2="334.9" y2="406.7" class="tick"/>
<line x1="343.4" y1="408.7" x2="343.4" y2="406.7" class="tick"/>
<line x1="351.8" y1="408.7" x2="351.8" y2="406.7" class="tick"/>
<line x1="360.3" y1="408.7" x2="360.3" y2="406.7" class="tick"/>
<line x1="377.3" y1="408.7" x2="377.3" y2="406.7" class="tick"/>
<line x1="385.7" y1="408.7" x2="385.7" y2="406.7" class="tick"/>
<line x1="394.2" y1="408.7" x2="394.2" y2="406.7" class="tick"/>
<line x1="402.7" y1="408.7" x2="402.7" y2="406.7" class="tick"/>
<line x1="419.6" y1="408.7" x2="419.6" y2="406.7" class="tick"/>
<line x1="428.1" y1="408.7" x2="428.1" y2="406.7" class="tick"/>
<line x1="436.6" y1="408.7" x2="436.6" y2="406.7" class="tick"/>
<line x1="445.1" y1="408.7" x2="445.1" y2="406.7" class="tick"/>
<line x1="462.0" y1="408.7" x2="462.0" y2="406.7" class="tick"/>
<line x1="470.5" y1="408.7" x2="470.5" y2="406.7" class="tick"/>
<line x1="479.0" y1="408.7" x2="479.0" y2="406.7" class="tick"/>
<line x1="487.4" y1="408.7" x2="487.4" y2="406.7" class="tick"/>
<line x1="504.4" y1="408.7" x2="504.4" y2="406.7" class="tick"/>
<line x1="512.9" y1="408.7" x2="512.9" y2="406.7" class="tick"/>
<line x1="521.3" y1="408.7" x2="521.3" y2="406.7" class="tick"/>
<line x1="529.8" y1="408.7" x2="529.8" y2="406.7" class="tick"/>
<text x="321.9" y="394.2" class="tl" text-anchor="end">0.76</text>
<text x="321.9" y="356.2" class="tl" text-anchor="end">0.80</text>
<text x="321.9" y="318.1" class="tl" text-anchor="end">0.84</text>
<text x="321.9" y="280.1" class="tl" text-anchor="end">0.88</text>
<text x="321.9" y="242.1" class="tl" text-anchor="end">0.92</text>
<text x="326.4" y="422.1" class="tl" text-anchor="middle">0.94</text>
<text x="368.8" y="422.1" class="tl" text-anchor="middle">0.96</text>
<text x="411.2" y="422.1" class="tl" text-anchor="middle">0.98</text>
<text x="453.5" y="422.1" class="tl" text-anchor="middle">1.00</text>
<text x="495.9" y="422.1" class="tl" text-anchor="middle">1.02</text>
<text x="538.3" y="422.1" class="tl" text-anchor="middle">1.04</text>
<g clip-path="url(#clipR)">
<path d="M352.0,273.0 C357.6,271.4 374.6,266.5 385.8,263.3 C397.0,260.1 410.5,255.4 419.4,253.8 C428.3,252.2 433.7,251.4 439.0,254.0 C444.3,256.6 448.0,262.5 451.0,269.3 C454.0,276.1 455.9,283.5 456.9,294.6 C457.9,305.7 456.9,320.6 457.0,335.8 C457.1,351.0 457.3,377.6 457.4,386.0" fill="none" stroke="#e87070" stroke-width="1.0" stroke-linejoin="round"/>
<path d="M354.5,272.4 C360.5,270.6 379.2,264.8 390.3,261.6 C401.4,258.4 412.9,254.3 421.0,253.0 C429.1,251.7 434.1,251.1 439.2,253.8 C444.3,256.5 448.5,262.4 451.5,269.2 C454.5,275.9 456.1,283.3 457.2,294.3 C458.2,305.3 457.6,320.1 457.8,335.3 C458.0,350.5 458.1,377.3 458.2,385.7" fill="none" stroke="#5a9ccc" stroke-width="1.0" stroke-linejoin="round"/>
<path d="M356.7,271.8 C362.6,270.0 381.4,264.2 392.2,261.0 C403.0,257.8 413.8,253.9 421.7,252.7 C429.6,251.5 434.3,250.9 439.3,253.6 C444.3,256.3 448.8,262.4 451.8,269.1 C454.8,275.9 456.4,283.1 457.5,294.1 C458.6,305.1 458.2,319.7 458.4,334.9 C458.6,350.1 458.8,377.0 458.9,385.4" fill="none" stroke="#36a47e" stroke-width="0.95" stroke-linejoin="round"/>
<rect x="350.1" y="271.1" width="3.8" height="3.8" fill="#fff" stroke="#e8383d" stroke-width="1"/>
<rect x="383.9" y="261.4" width="3.8" height="3.8" fill="#fff" stroke="#e8383d" stroke-width="1"/>
<rect x="417.5" y="251.9" width="3.8" height="3.8" fill="#fff" stroke="#e8383d" stroke-width="1"/>
<rect x="437.1" y="252.1" width="3.8" height="3.8" fill="#fff" stroke="#e8383d" stroke-width="1"/>
<rect x="449.1" y="267.4" width="3.8" height="3.8" fill="#fff" stroke="#e8383d" stroke-width="1"/>
<rect x="455.0" y="292.7" width="3.8" height="3.8" fill="#fff" stroke="#e8383d" stroke-width="1"/>
<rect x="455.1" y="333.9" width="3.8" height="3.8" fill="#fff" stroke="#e8383d" stroke-width="1"/>
<rect x="455.5" y="384.1" width="3.8" height="3.8" fill="#fff" stroke="#e8383d" stroke-width="1"/>
<circle cx="354.5" cy="272.4" r="2.0" fill="#fff" stroke="#2f86c4" stroke-width="1"/>
<circle cx="390.3" cy="261.6" r="2.0" fill="#fff" stroke="#2f86c4" stroke-width="1"/>
<circle cx="421.0" cy="253.0" r="2.0" fill="#fff" stroke="#2f86c4" stroke-width="1"/>
<circle cx="439.2" cy="253.8" r="2.0" fill="#fff" stroke="#2f86c4" stroke-width="1"/>
<circle cx="451.5" cy="269.2" r="2.0" fill="#fff" stroke="#2f86c4" stroke-width="1"/>
<circle cx="457.2" cy="294.3" r="2.0" fill="#fff" stroke="#2f86c4" stroke-width="1"/>
<circle cx="457.8" cy="335.3" r="2.0" fill="#fff" stroke="#2f86c4" stroke-width="1"/>
<circle cx="458.2" cy="385.7" r="2.0" fill="#fff" stroke="#2f86c4" stroke-width="1"/>
<path d="M356.7,269.2 L359.1,273.5 L354.3,273.5 Z" fill="#fff" stroke="#1fa34a" stroke-width="1"/>
<path d="M392.2,258.4 L394.6,262.7 L389.8,262.7 Z" fill="#fff" stroke="#1fa34a" stroke-width="1"/>
<path d="M421.7,250.1 L424.1,254.4 L419.3,254.4 Z" fill="#fff" stroke="#1fa34a" stroke-width="1"/>
<path d="M439.3,251.0 L441.7,255.3 L436.9,255.3 Z" fill="#fff" stroke="#1fa34a" stroke-width="1"/>
<path d="M451.8,266.6 L454.2,270.8 L449.4,270.8 Z" fill="#fff" stroke="#1fa34a" stroke-width="1"/>
<path d="M457.5,291.6 L459.9,295.8 L455.1,295.8 Z" fill="#fff" stroke="#1fa34a" stroke-width="1"/>
<path d="M458.4,332.3 L460.8,336.6 L456.0,336.6 Z" fill="#fff" stroke="#1fa34a" stroke-width="1"/>
<path d="M458.9,382.8 L461.3,387.1 L456.5,387.1 Z" fill="#fff" stroke="#1fa34a" stroke-width="1"/>
<path d="M405.2,304.9 C410.3,303.4 425.8,298.6 436.0,296.0 C446.2,293.4 454.9,291.4 466.6,289.5 C478.3,287.6 496.1,283.1 506.4,284.8 C516.7,286.5 524.0,292.9 528.2,299.8 C532.4,306.7 530.9,318.1 531.6,326.3 C532.3,334.5 532.2,341.9 532.4,349.0 C532.6,356.1 532.8,365.8 532.9,369.1" fill="none" stroke="#e03434" stroke-width="1.2" stroke-linejoin="round"/>
<path d="M421.0,300.6 C422.8,300.1 424.2,299.4 432.0,297.5 C439.8,295.6 454.9,291.2 467.5,289.0 C480.1,286.8 497.4,282.4 507.5,284.2 C517.6,286.0 524.4,292.6 528.4,299.6 C532.4,306.6 531.1,317.9 531.8,326.1 C532.5,334.3 532.4,341.8 532.6,348.9 C532.8,356.0 532.9,365.6 533.0,369.0" fill="none" stroke="#2274b4" stroke-width="1.2" stroke-linejoin="round"/>
<path d="M427.7,298.3 C428.8,298.0 427.6,298.1 434.5,296.4 C441.4,294.7 456.5,290.4 468.9,288.2 C481.2,286.0 498.7,281.3 508.6,283.2 C518.6,285.1 524.7,292.4 528.6,299.5 C532.5,306.6 531.3,317.8 532.0,326.0 C532.7,334.2 532.5,341.7 532.7,348.8 C532.9,355.9 533.1,365.5 533.2,368.9" fill="none" stroke="#178a62" stroke-width="1.1" stroke-linejoin="round"/>
<rect x="403.3" y="303.0" width="3.7" height="3.7" fill="#e8383d" stroke="#e8383d" stroke-width="1"/>
<rect x="434.1" y="294.1" width="3.7" height="3.7" fill="#e8383d" stroke="#e8383d" stroke-width="1"/>
<rect x="464.8" y="287.6" width="3.7" height="3.7" fill="#e8383d" stroke="#e8383d" stroke-width="1"/>
<rect x="504.5" y="282.9" width="3.7" height="3.7" fill="#e8383d" stroke="#e8383d" stroke-width="1"/>
<rect x="526.4" y="297.9" width="3.7" height="3.7" fill="#e8383d" stroke="#e8383d" stroke-width="1"/>
<rect x="529.8" y="324.4" width="3.7" height="3.7" fill="#e8383d" stroke="#e8383d" stroke-width="1"/>
<rect x="530.5" y="347.1" width="3.7" height="3.7" fill="#e8383d" stroke="#e8383d" stroke-width="1"/>
<rect x="531.0" y="367.2" width="3.7" height="3.7" fill="#e8383d" stroke="#e8383d" stroke-width="1"/>
<circle cx="421.0" cy="300.6" r="2.15" fill="#2f86c4" stroke="#2f86c4" stroke-width="1"/>
<circle cx="432.0" cy="297.5" r="2.15" fill="#2f86c4" stroke="#2f86c4" stroke-width="1"/>
<circle cx="467.5" cy="289.0" r="2.15" fill="#2f86c4" stroke="#2f86c4" stroke-width="1"/>
<circle cx="507.5" cy="284.2" r="2.15" fill="#2f86c4" stroke="#2f86c4" stroke-width="1"/>
<circle cx="528.4" cy="299.6" r="2.15" fill="#2f86c4" stroke="#2f86c4" stroke-width="1"/>
<circle cx="531.8" cy="326.1" r="2.15" fill="#2f86c4" stroke="#2f86c4" stroke-width="1"/>
<circle cx="532.6" cy="348.9" r="2.15" fill="#2f86c4" stroke="#2f86c4" stroke-width="1"/>
<circle cx="533.0" cy="369.0" r="2.15" fill="#2f86c4" stroke="#2f86c4" stroke-width="1"/>
<path d="M427.7,295.8 L430.1,300.0 L425.3,300.0 Z" fill="#1fa34a" stroke="#1fa34a" stroke-width="1"/>
<path d="M434.5,293.8 L436.9,298.1 L432.1,298.1 Z" fill="#1fa34a" stroke="#1fa34a" stroke-width="1"/>
<path d="M468.9,285.6 L471.3,289.9 L466.5,289.9 Z" fill="#1fa34a" stroke="#1fa34a" stroke-width="1"/>
<path d="M508.6,280.6 L511.0,284.9 L506.2,284.9 Z" fill="#1fa34a" stroke="#1fa34a" stroke-width="1"/>
<path d="M528.6,296.9 L531.0,301.2 L526.2,301.2 Z" fill="#1fa34a" stroke="#1fa34a" stroke-width="1"/>
<path d="M532.0,323.4 L534.4,327.7 L529.6,327.7 Z" fill="#1fa34a" stroke="#1fa34a" stroke-width="1"/>
<path d="M532.7,346.2 L535.1,350.5 L530.3,350.5 Z" fill="#1fa34a" stroke="#1fa34a" stroke-width="1"/>
<path d="M533.2,366.3 L535.6,370.6 L530.8,370.6 Z" fill="#1fa34a" stroke="#1fa34a" stroke-width="1"/>
</g>
<rect x="326.4" y="321.9" width="108.8" height="86.8" style="fill:#fff;stroke:#3a3a3a;stroke-width:1.1"/>
<line x1="328.7" y1="330.8" x2="353.6" y2="330.8" stroke="#ef7f82" stroke-width="1.1"/>
<rect x="339.3" y="328.9" width="3.8" height="3.8" fill="#fff" stroke="#e8383d" stroke-width="1"/>
<text x="357.0" y="334.7" class="lg" textLength="74.9" lengthAdjust="spacingAndGlyphs">Baseline fan_G1</text>
<line x1="328.7" y1="344.7" x2="353.6" y2="344.7" stroke="#6aaed8" stroke-width="1.1"/>
<circle cx="341.2" cy="344.7" r="2.0" fill="#fff" stroke="#2f86c4" stroke-width="1"/>
<text x="357.0" y="348.6" class="lg" textLength="74.9" lengthAdjust="spacingAndGlyphs">Baseline fan_G2</text>
<line x1="328.7" y1="358.7" x2="353.6" y2="358.7" stroke="#5cc17a" stroke-width="1.1"/>
<path d="M341.2,356.1 L343.6,360.3 L338.8,360.3 Z" fill="#fff" stroke="#1fa34a" stroke-width="1"/>
<text x="357.0" y="362.6" class="lg" textLength="74.9" lengthAdjust="spacingAndGlyphs">Baseline fan_G3</text>
<line x1="328.7" y1="372.6" x2="353.6" y2="372.6" stroke="#e8383d" stroke-width="1.1"/>
<rect x="339.3" y="370.8" width="3.7" height="3.7" fill="#e8383d" stroke="#e8383d" stroke-width="1"/>
<text x="357.0" y="376.5" class="lg" textLength="72.3" lengthAdjust="spacingAndGlyphs">Tandem fan_G1</text>
<line x1="328.7" y1="386.6" x2="353.6" y2="386.6" stroke="#6aaed8" stroke-width="1.1"/>
<circle cx="341.2" cy="386.6" r="2.15" fill="#2f86c4" stroke="#2f86c4" stroke-width="1"/>
<text x="357.0" y="390.5" class="lg" textLength="72.3" lengthAdjust="spacingAndGlyphs">Tandem fan_G2</text>
<line x1="328.7" y1="400.5" x2="353.6" y2="400.5" stroke="#1fa34a" stroke-width="1.1"/>
<path d="M341.2,397.9 L343.6,402.2 L338.8,402.2 Z" fill="#1fa34a" stroke="#1fa34a" stroke-width="1"/>
<text x="357.0" y="404.4" class="lg" textLength="72.3" lengthAdjust="spacingAndGlyphs">Tandem fan_G3</text>
<rect x="326.4" y="238.2" width="211.9" height="170.5" class="frame"/>
<text transform="translate(11.2,323.6) rotate(-90)" class="ax" text-anchor="middle" font-style="italic">π</text>
<text transform="translate(289.6,323.6) rotate(-90)" class="ax" text-anchor="middle"><tspan font-style="italic">η</tspan><tspan class="sub" dy="2.5">isen</tspan></text>
<text x="121.5" y="442.2" class="ax"><tspan font-style="italic">ṁ</tspan>/<tspan font-style="italic">ṁ</tspan><tspan class="sub" dy="3.4">design</tspan></text>
<text x="406.9" y="442.2" class="ax"><tspan font-style="italic">ṁ</tspan>/<tspan font-style="italic">ṁ</tspan><tspan class="sub" dy="3.4">design</tspan></text>
<text x="223.3" y="223.6" class="cap" style="font-size:14.6px">(<tspan font-weight="bold">a</tspan>) Grids details</text>
<text x="198.6" y="466.3" class="cap" style="font-size:14.55px">(<tspan font-weight="bold">b</tspan>) Characteristic curves</text>
</svg>
</body></html>
